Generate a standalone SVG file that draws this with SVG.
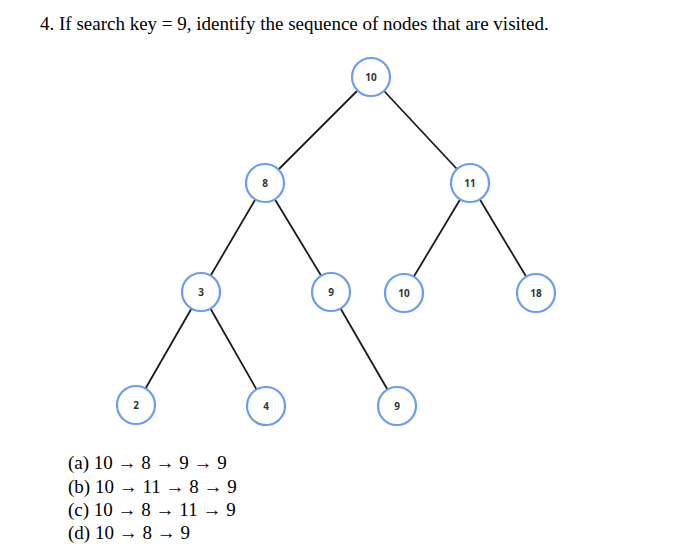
<svg xmlns="http://www.w3.org/2000/svg" width="697" height="549" viewBox="0 0 697 549">
<style>
.n circle{fill:#fff;stroke:#6b9cf0;stroke-width:2.2}
.n text{font-family:"Open Sans","DejaVu Sans",sans-serif;font-size:10px;font-weight:bold;fill:#333;text-anchor:middle}
.e line{stroke:#1a1a1a;stroke-width:1.8}
.t{font-family:"Liberation Serif",serif;font-size:19px;fill:#000}
</style>
<rect width="697" height="549" fill="#fff"/>
<text class="t" x="40" y="30">4.  If search key = 9, identify the sequence of nodes that are visited.</text>
<g id="connectors" class="e">
<line x1="371" y1="77" x2="265" y2="183"/>
<line x1="371" y1="77" x2="470" y2="183"/>
<line x1="265" y1="183" x2="201" y2="292"/>
<line x1="265" y1="183" x2="331" y2="292"/>
<line x1="470" y1="183" x2="404" y2="293"/>
<line x1="470" y1="183" x2="536" y2="293"/>
<line x1="201" y1="292" x2="136" y2="405"/>
<line x1="201" y1="292" x2="266" y2="406"/>
<line x1="331" y1="292" x2="397" y2="406"/>
</g>
<g id="n10" class="n"><circle cx="371" cy="77" r="19"/><text x="371" y="81">10</text></g>
<g id="n8" class="n"><circle cx="265" cy="183" r="19"/><text x="265" y="187">8</text></g>
<g id="n11" class="n"><circle cx="470" cy="183" r="19"/><text x="470" y="187">11</text></g>
<g id="n3" class="n"><circle cx="201" cy="292" r="19"/><text x="201" y="296">3</text></g>
<g id="n9a" class="n"><circle cx="331" cy="292" r="19"/><text x="331" y="296">9</text></g>
<g id="n10b" class="n"><circle cx="404" cy="293" r="19"/><text x="404" y="297">10</text></g>
<g id="n18" class="n"><circle cx="536" cy="293" r="19"/><text x="536" y="297">18</text></g>
<g id="n2" class="n"><circle cx="136" cy="405" r="19"/><text x="136" y="409">2</text></g>
<g id="n4" class="n"><circle cx="266" cy="406" r="19"/><text x="266" y="410">4</text></g>
<g id="n9b" class="n"><circle cx="397" cy="406" r="19"/><text x="397" y="410">9</text></g>
<text class="t" x="68" y="469">(a)  10 → 8 → 9 → 9</text>
<text class="t" x="68" y="493">(b)  10 → 11 → 8 → 9</text>
<text class="t" x="68" y="516">(c)  10 → 8 → 11 → 9</text>
<text class="t" x="68" y="539">(d)  10 → 8 → 9</text>
</svg>
